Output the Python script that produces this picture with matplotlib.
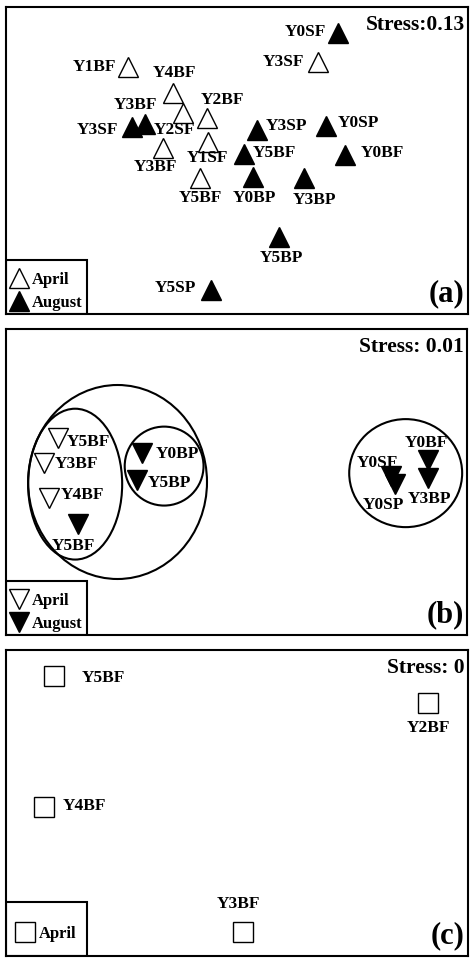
import matplotlib
matplotlib.use('Agg')
import matplotlib.pyplot as plt
from matplotlib.lines import Line2D
from matplotlib.patches import Ellipse, Rectangle

plt.rcParams['font.family'] = ['Liberation Serif', 'DejaVu Serif']
plt.rcParams['font.weight'] = 'bold'

# panel (a) - NMDS coordinates (0-100 scale)
a_apr_names = ['Y1BF', 'Y4BF', 'Y2SF', 'Y2BF', 'Y1SF', 'Y3BF', 'Y5BF', 'Y3SF']
a_apr_x = [26.4, 36.1, 38.3, 43.5, 43.7, 34.0, 42.0, 67.5]
a_apr_y = [80.5, 72.0, 65.5, 63.8, 56.0, 54.1, 44.3, 82.1]
a_aug_names = ['Y0SF', 'Y3SF', 'Y3BF', 'Y3SP', 'Y0SP', 'Y5BF', 'Y0BF', 'Y0BP', 'Y3BP', 'Y5BP', 'Y5SP']
a_aug_x = [71.9, 27.3, 30.1, 54.3, 69.3, 51.5, 73.4, 53.5, 64.5, 59.1, 44.4]
a_aug_y = [91.5, 60.9, 61.9, 59.9, 61.2, 52.1, 51.8, 44.6, 44.3, 25.1, 7.8]

# panel (b)
b_apr_names = ['Y5BF', 'Y3BF', 'Y4BF']
b_apr_x = [11.3, 8.2, 9.3]
b_apr_y = [64.4, 56.2, 44.8]
b_aug_names = ['Y5BF', 'Y0BP', 'Y5BP', 'Y0BF', 'Y3BP', 'Y0SF', 'Y0SP']
b_aug_x = [15.6, 29.5, 28.4, 91.5, 91.5, 83.5, 84.4]
b_aug_y = [36.3, 59.5, 50.7, 57.2, 51.3, 52.0, 49.3]

# panel (c)
c_apr_names = ['Y5BF', 'Y2BF', 'Y4BF', 'Y3BF']
c_apr_x = [10.4, 91.3, 8.2, 51.3]
c_apr_y = [91.5, 82.7, 48.7, 7.8]

# label offsets (pixels)
a_apr_off = [(-33, 0), (2, 20), (-8, -17), (16, 18), (0, -16), (-8, -19), (0, -20), (-34, 0)]
a_aug_off = [(-33, 1), (-35, -3), (-10, 19), (30, 4), (32, 3), (31, 1), (37, 2),
             (1, -21), (11, -22), (2, -21), (-36, 2)]
b_apr_off = [(30, -4), (33, -1), (34, 3)]
b_aug_off = [(-4, -22), (35, -1), (33, -3), (-1, 17), (2, -21), (-13, 13), (-12, -21)]
c_apr_off = [(49, -2), (1, -25), (41, 1), (-5, 28)]

# group outlines in panel (b): (cx, cy, w, h)
b_groups = [(24.2, 50.0, 38.8, 63.4), (15.0, 49.3, 20.4, 49.3),
            (34.3, 55.2, 17.1, 25.8), (86.7, 52.9, 24.5, 35.3)]

fig = plt.figure(figsize=(4.74, 9.65), dpi=100)
ax_a = fig.add_axes([6/474, 1-314/965, 462/474, 307/965])
ax_b = fig.add_axes([6/474, 1-635/965, 461/474, 306/965])
ax_c = fig.add_axes([6/474, 1-956/965, 462/474, 306/965])

ms = 14


def setup(ax, stress, tag):
    ax.set_xlim(0, 100)
    ax.set_ylim(0, 100)
    ax.set_xticks([])
    ax.set_yticks([])
    for s in ax.spines.values():
        s.set_linewidth(1.5)
    ax.text(0.993, 0.975, stress, transform=ax.transAxes, ha='right', va='top', fontsize=15.5)
    ax.text(0.993, 0.065, tag, transform=ax.transAxes, ha='right', va='center', fontsize=22)


def labels(ax, names, xs, ys, offs):
    for n, x, y, o in zip(names, xs, ys, offs):
        ax.annotate(n, (x, y), xytext=o, textcoords='offset pixels',
                    ha='center', va='center', fontsize=12.5)


def legend(ax, handles):
    ax.add_patch(Rectangle((0, 0), 0.175, 0.177, transform=ax.transAxes,
                           fill=False, lw=1.5, ec='black', zorder=5))
    ax.legend(handles=handles, loc='center', bbox_to_anchor=(0, -0.015, 0.175, 0.177),
              frameon=False, fontsize=12, handlelength=1.0, handletextpad=0.3,
              labelspacing=0.45, borderpad=0.2, borderaxespad=0)


# (a)
setup(ax_a, 'Stress:0.13', '(a)')
ax_a.plot(a_apr_x, a_apr_y, '^', ms=ms, mfc='white', mec='black', mew=1.0, ls='none')
ax_a.plot(a_aug_x, a_aug_y, '^', ms=ms, mfc='black', mec='black', mew=1.0, ls='none')
labels(ax_a, a_apr_names, a_apr_x, a_apr_y, a_apr_off)
labels(ax_a, a_aug_names, a_aug_x, a_aug_y, a_aug_off)
legend(ax_a, [Line2D([], [], marker='^', ms=ms, mfc='white', mec='black', mew=1.0, ls='none', label='April'),
              Line2D([], [], marker='^', ms=ms, mfc='black', mec='black', mew=1.0, ls='none', label='August')])

# (b)
setup(ax_b, 'Stress: 0.01', '(b)')
for cx, cy, w, h in b_groups:
    ax_b.add_patch(Ellipse((cx, cy), w, h, fill=False, lw=1.5, ec='black'))
ax_b.plot(b_apr_x, b_apr_y, 'v', ms=ms, mfc='white', mec='black', mew=1.0, ls='none')
ax_b.plot(b_aug_x, b_aug_y, 'v', ms=ms, mfc='black', mec='black', mew=1.0, ls='none')
labels(ax_b, b_apr_names, b_apr_x, b_apr_y, b_apr_off)
labels(ax_b, b_aug_names, b_aug_x, b_aug_y, b_aug_off)
legend(ax_b, [Line2D([], [], marker='v', ms=ms, mfc='white', mec='black', mew=1.0, ls='none', label='April'),
              Line2D([], [], marker='v', ms=ms, mfc='black', mec='black', mew=1.0, ls='none', label='August')])

# (c)
setup(ax_c, 'Stress: 0', '(c)')
ax_c.plot(c_apr_x, c_apr_y, 's', ms=ms, mfc='white', mec='black', mew=1.0, ls='none')
labels(ax_c, c_apr_names, c_apr_x, c_apr_y, c_apr_off)
legend(ax_c, [Line2D([], [], marker='s', ms=ms, mfc='white', mec='black', mew=1.0, ls='none', label='April')])

fig.savefig('out.png', dpi=100)
